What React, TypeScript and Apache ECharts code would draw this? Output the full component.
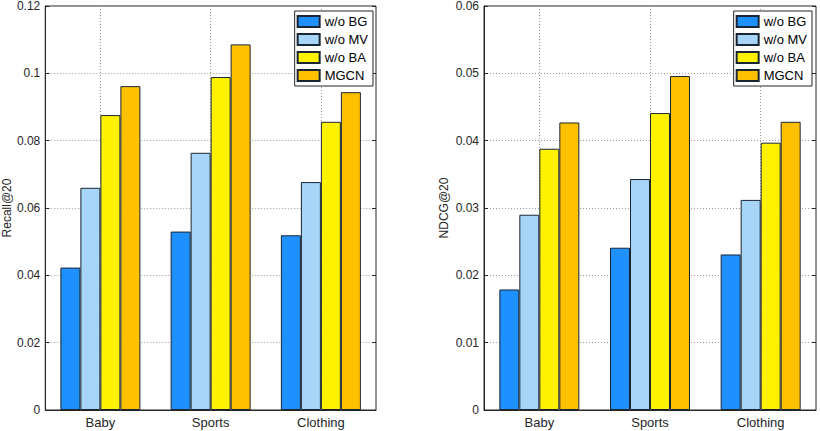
import React, { useEffect, useRef } from "react";
import * as echarts from "echarts";

const categories = ["Baby", "Sports", "Clothing"];
const seriesNames = ["w/o BG", "w/o MV", "w/o BA", "MGCN"];

const recallWoBG = [0.0423, 0.053, 0.0519];
const recallWoMV = [0.066, 0.0764, 0.0677];
const recallWoBA = [0.0876, 0.0989, 0.0856];
const recallMGCN = [0.0962, 0.1086, 0.0944];

const ndcgWoBG = [0.0179, 0.0241, 0.0231];
const ndcgWoMV = [0.029, 0.0343, 0.0312];
const ndcgWoBA = [0.0388, 0.0441, 0.0397];
const ndcgMGCN = [0.0427, 0.0496, 0.0428];

const recallTicks = { min: 0, max: 0.12, interval: 0.02 };
const ndcgTicks = { min: 0, max: 0.06, interval: 0.01 };

const colors = ["#1E90FF", "#A6D5F7", "#FFF200", "#FFC000"];
const borderCol = "#1a2533";
const textCol = "#262626";
const font = "Liberation Sans, Arial, sans-serif";

export default function App() {
  const ref = useRef<HTMLDivElement>(null);
  useEffect(() => {
    if (!ref.current) return;
    const chart = echarts.init(ref.current, undefined, { renderer: "svg" });

    const grids = [
      { left: 45, top: 5, width: 331, height: 405 },
      { left: 484, top: 5, width: 332, height: 405 },
    ];
    const helperData = ["a", "b", "c", "d", "e", "f", "g"];

    const xAxes: any[] = [];
    const yAxes: any[] = [];
    [0, 1].forEach((g) => {
      xAxes.push({
        type: "category",
        gridIndex: g,
        data: categories,
        axisLine: { show: true, lineStyle: { color: textCol, width: 1 } },
        axisTick: { show: false },
        axisLabel: { color: textCol, fontSize: 13, fontFamily: font, margin: 6 },
        splitLine: { show: false },
      });
      xAxes.push({
        type: "category",
        gridIndex: g,
        data: helperData,
        boundaryGap: false,
        position: "bottom",
        axisLine: { show: false },
        axisTick: { show: false },
        axisLabel: { show: false },
        splitLine: {
          show: true,
          interval: (i: number) => i % 2 === 1,
          lineStyle: { color: "#9a9a9a", type: [1, 2], width: 1 },
        },
      });
      const t = g === 0 ? recallTicks : ndcgTicks;
      yAxes.push({
        type: "value",
        gridIndex: g,
        min: t.min,
        max: t.max,
        interval: t.interval,
        name: g === 0 ? "Recall@20" : "NDCG@20",
        nameLocation: "middle",
        nameGap: g === 0 ? 30 : 34,
        nameTextStyle: { color: textCol, fontSize: 12, fontFamily: font },
        axisLine: { show: true, lineStyle: { color: textCol, width: 1 } },
        axisTick: { show: true, inside: true, length: 4, lineStyle: { color: textCol } },
        axisLabel: { color: textCol, fontSize: 12, fontFamily: font, margin: 5 },
        splitLine: { show: true, lineStyle: { color: "#9a9a9a", type: [1, 2], width: 1 } },
      });
      yAxes.push({
        type: "value",
        gridIndex: g,
        position: "right",
        min: t.min,
        max: t.max,
        interval: t.interval,
        axisLine: { show: false },
        axisTick: { show: true, inside: true, length: 4, lineStyle: { color: textCol } },
        axisLabel: { show: false },
        splitLine: { show: false },
      });
    });

    const panels = [
      [recallWoBG, recallWoMV, recallWoBA, recallMGCN],
      [ndcgWoBG, ndcgWoMV, ndcgWoBA, ndcgMGCN],
    ];
    const series: any[] = [];
    panels.forEach((arrs, g) => {
      arrs.forEach((arr, k) => {
        series.push({
          type: "bar",
          name: seriesNames[k],
          xAxisIndex: g * 2,
          yAxisIndex: g * 2,
          data: arr,
          barWidth: 20,
          barGap: "0%",
          itemStyle: { color: colors[k], borderColor: borderCol, borderWidth: 1 },
        });
      });
    });

    const legendBase = {
      orient: "vertical",
      top: 11,
      itemWidth: 22,
      itemHeight: 11,
      itemGap: 5,
      padding: [4, 5, 4, 2],
      backgroundColor: "#ffffff",
      borderColor: textCol,
      borderWidth: 1,
      borderRadius: 0,
      icon: "rect",
      data: seriesNames,
      textStyle: { color: "#000", fontSize: 13, fontFamily: font },
    };

    chart.setOption({
      animation: false,
      backgroundColor: "#ffffff",
      grid: grids.map((gr) => ({
        ...gr,
        show: true,
        borderColor: textCol,
        borderWidth: 1,
        backgroundColor: "transparent",
      })),
      xAxis: xAxes,
      yAxis: yAxes,
      legend: [
        { ...legendBase, right: 447 },
        { ...legendBase, right: 8 },
      ],
      series,
    });
    return () => chart.dispose();
  }, []);
  return (
    <div
      ref={ref}
      style={{ position: "fixed", left: 0, top: 0, width: 820, height: 431, background: "#fff" }}
    />
  );
}
